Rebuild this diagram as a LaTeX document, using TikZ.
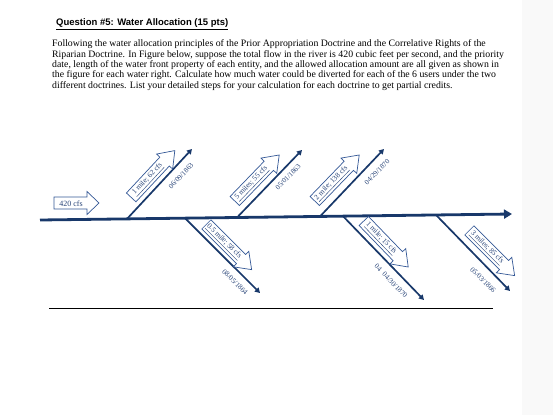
\documentclass[tikz,border=0pt]{standalone}
\usepackage{fontspec}
\setmainfont{Liberation Serif}
\newfontfamily\headfont{Liberation Sans}
\usetikzlibrary{arrows.meta,calc}
\definecolor{navy}{RGB}{24,56,106}
\definecolor{outl}{RGB}{52,88,150}
\definecolor{lbl}{RGB}{40,68,120}
\begin{document}
\begin{tikzpicture}[x=1pt,y=1pt,
  river/.style={draw=navy,line width=2.8pt,-{Triangle[length=8pt,width=9pt]}},
  branch/.style={draw=navy,line width=1.7pt,-{Triangle[length=5pt,width=5.5pt]}},
  boxline/.style={draw=outl,line width=0.7pt,fill=white},
  btext/.style={font=\fontsize{7.4}{8}\selectfont,text=lbl,inner sep=0pt},
  datetext/.style={font=\fontsize{7.2}{8}\selectfont,text=lbl,inner sep=0pt},
  para/.style={anchor=base west,inner sep=0pt,font=\fontsize{9.8}{11}\selectfont},
  barrow/.pic={
    \draw[boxline] (-32,-6.5) -- (17,-6.5) -- (17,-11) -- (32,0) -- (17,11) -- (17,6.5) -- (-32,6.5) -- cycle;
    \node[btext,transform shape] (-t) at (-7.5,0) {\underline{#1}};
  }
]
\useasboundingbox (0,0) rectangle (553,415);
\fill[gray!5] (522,0) rectangle (553,415);

% title and question text
\node[anchor=base west,inner sep=0pt,font=\headfont\bfseries\fontsize{9.5}{11}\selectfont] (title) at (56,389.3) {\underline{Question \#5: Water Allocation (15 pts)}};
\node[para] (l1) at (52,368) {Following the water allocation principles of the Prior Appropriation Doctrine and the Correlative Rights of the};
\node[para] (l2) at (52,357.7) {Riparian Doctrine. In Figure below, suppose the total flow in the river is 420 cubic feet per second, and the priority};
\node[para] (l3) at (52,347.4) {date, length of the water front property of each entity, and the allowed allocation amount are all given as shown in};
\node[para] (l4) at (52,337.1) {the figure for each water right. Calculate how much water could be diverted for each of the 6 users under the two};
\node[para] (l5) at (52,326.8) {different doctrines. List your detailed steps for your calculation for each doctrine to get partial credits.};

% river
\coordinate (rs) at (40,195);
\coordinate (re) at (512,201);
\draw[river] (rs) -- (re);

\coordinate (b1) at ($(rs)!0.1843!(re)$);
\coordinate (b2) at ($(rs)!0.4174!(re)$);
\coordinate (b3) at ($(rs)!0.5932!(re)$);
\coordinate (b4) at ($(rs)!0.3072!(re)$);
\coordinate (b5) at ($(rs)!0.6419!(re)$);
\coordinate (b6) at ($(rs)!0.8390!(re)$);
\coordinate (t1) at (192,266);
\coordinate (t2) at (302,265);
\coordinate (t3) at (384,266);
\coordinate (t4) at (260,122);
\coordinate (t5) at (424,115);
\coordinate (t6) at (510,124);
\draw[branch] (b1) -- (t1);
\draw[branch] (b2) -- (t2);
\draw[branch] (b3) -- (t3);
\draw[branch] (b4) -- (t4);
\draw[branch] (b5) -- (t5);
\draw[branch] (b6) -- (t6);

% inflow arrow
\draw[boxline] (54,206) -- (87,206) -- (87,200.5) -- (99,212) -- (87,223.5) -- (87,218) -- (54,218) -- cycle;
\node[btext,font=\fontsize{8}{9}\selectfont] (inflow) at (71,211.5) {420 cfs};

% allocation block arrows
\pic[rotate=47] (a1) at (153,241) {barrow={1 mile; 62 cfs}};
\pic[rotate=46] (a2) at (257,237) {barrow={5 miles; 55 cfs}};
\pic[rotate=46] (a3) at (337,237) {barrow={2 mile; 138 cfs}};
\pic[rotate=-45] (a4) at (229,168) {barrow={0.5 mile; 58 cfs}};
\pic[rotate=-46] (a5) at (386,171) {barrow={1 mile; 15 cfs}};
\pic[rotate=-45] (a6) at (492,162) {barrow={3 miles; 85 cfs}};

% priority dates
\node[datetext,rotate=47] (d1) at (181,239) {06/09/1863};
\node[datetext,rotate=46] (d2) at (288,238) {05/01/1863};
\node[datetext,rotate=46] (d3) at (377,243) {04/29/1870};
\node[datetext,rotate=-45] (d4) at (235,133) {08/05/1864};
\node[datetext,rotate=-46] (d5) at (391,134) {04\hspace{4pt}04/30/1870};
\node[datetext,rotate=-45] (d6) at (483,135) {05/03/1866};

% rule
\coordinate (r1) at (49,107);
\coordinate (r2) at (493,107);
\draw[line width=0.9pt] (r1) -- (r2);
\end{tikzpicture}
\end{document}
